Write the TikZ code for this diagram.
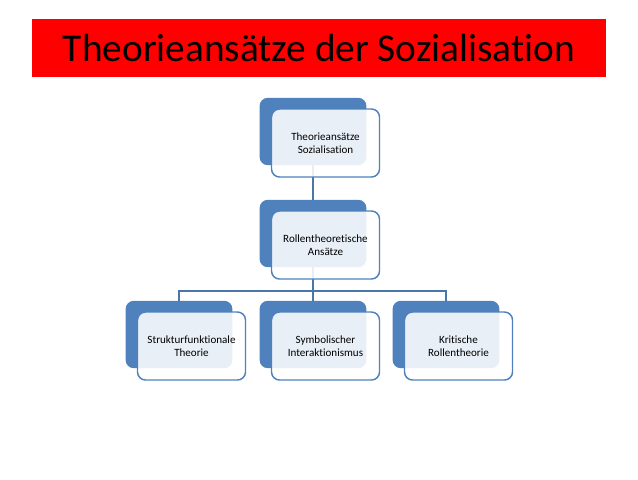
\documentclass[tikz,border=0pt]{standalone}
\usepackage{fontspec}
\setmainfont{Carlito}[Ligatures=NoCommon]
\usetikzlibrary{positioning, backgrounds, calc}
\definecolor{boxblue}{HTML}{4F81BD}
\definecolor{lineblue}{HTML}{4A76A8}
\definecolor{titlered}{HTML}{FF0000}

\begin{document}
\begin{tikzpicture}[x=0.75pt, y=-0.75pt,
    back/.style = {fill=boxblue, rounded corners=6pt, minimum width=80pt, minimum height=50.5pt, inner sep=0pt},
    front/.style = {draw=boxblue, line width=1.1pt, fill=white, fill opacity=0.88, text opacity=1, rounded corners=6pt, minimum width=81pt, minimum height=51pt, inner sep=2pt, align=center, font=\fontsize{8.3}{9.6}\selectfont},
    link/.style = {draw=lineblue, line width=1.1pt}]
    \useasboundingbox (0,0) rectangle (638,479);

    % Title
    \node[fill=titlered, minimum width=430.5pt, minimum height=43.5pt, inner sep=0pt, font=\fontsize{29.5}{34}\selectfont] (title) at (319,48) {Theorieansätze der Sozialisation};

    % Nodes (blue back plates)
    \node[back] (rootb) at (313,131.5) {};
    \node[back] (rolleb) at (313,233.5) {};
    \node[back] (strukb) at (179,334.5) {};
    \node[back] (symbb) at (313,334.5) {};
    \node[back] (kritb) at (446,334.5) {};

    % Nodes (front boxes with text)
    \node[front] (root) at ([shift={(12.5,11.5)}]rootb.center) {Theorieansätze\\Sozialisation};
    \node[front] (rolle) at ([shift={(12.5,11.5)}]rolleb.center) {Rollentheoretische\\Ansätze};
    \node[front] (struk) at ([shift={(12.5,11.5)}]strukb.center) {Strukturfunktionale\\Theorie};
    \node[front] (symb) at ([shift={(12.5,11.5)}]symbb.center) {Symbolischer\\Interaktionismus};
    \node[front] (krit) at ([shift={(12.5,11.5)}]kritb.center) {Kritische\\Rollentheorie};

    % Lines
    \coordinate (fork) at (313,291);
    \begin{scope}[on background layer]
        \draw[link] (rootb.center) -- (rolleb.center);
        \draw[link] (rolleb.center) -- (fork);
        \draw[link] (fork) -| (strukb.center);
        \draw[link] (fork) -- (symbb.center);
        \draw[link] (fork) -| (kritb.center);
    \end{scope}
\end{tikzpicture}
\end{document}
